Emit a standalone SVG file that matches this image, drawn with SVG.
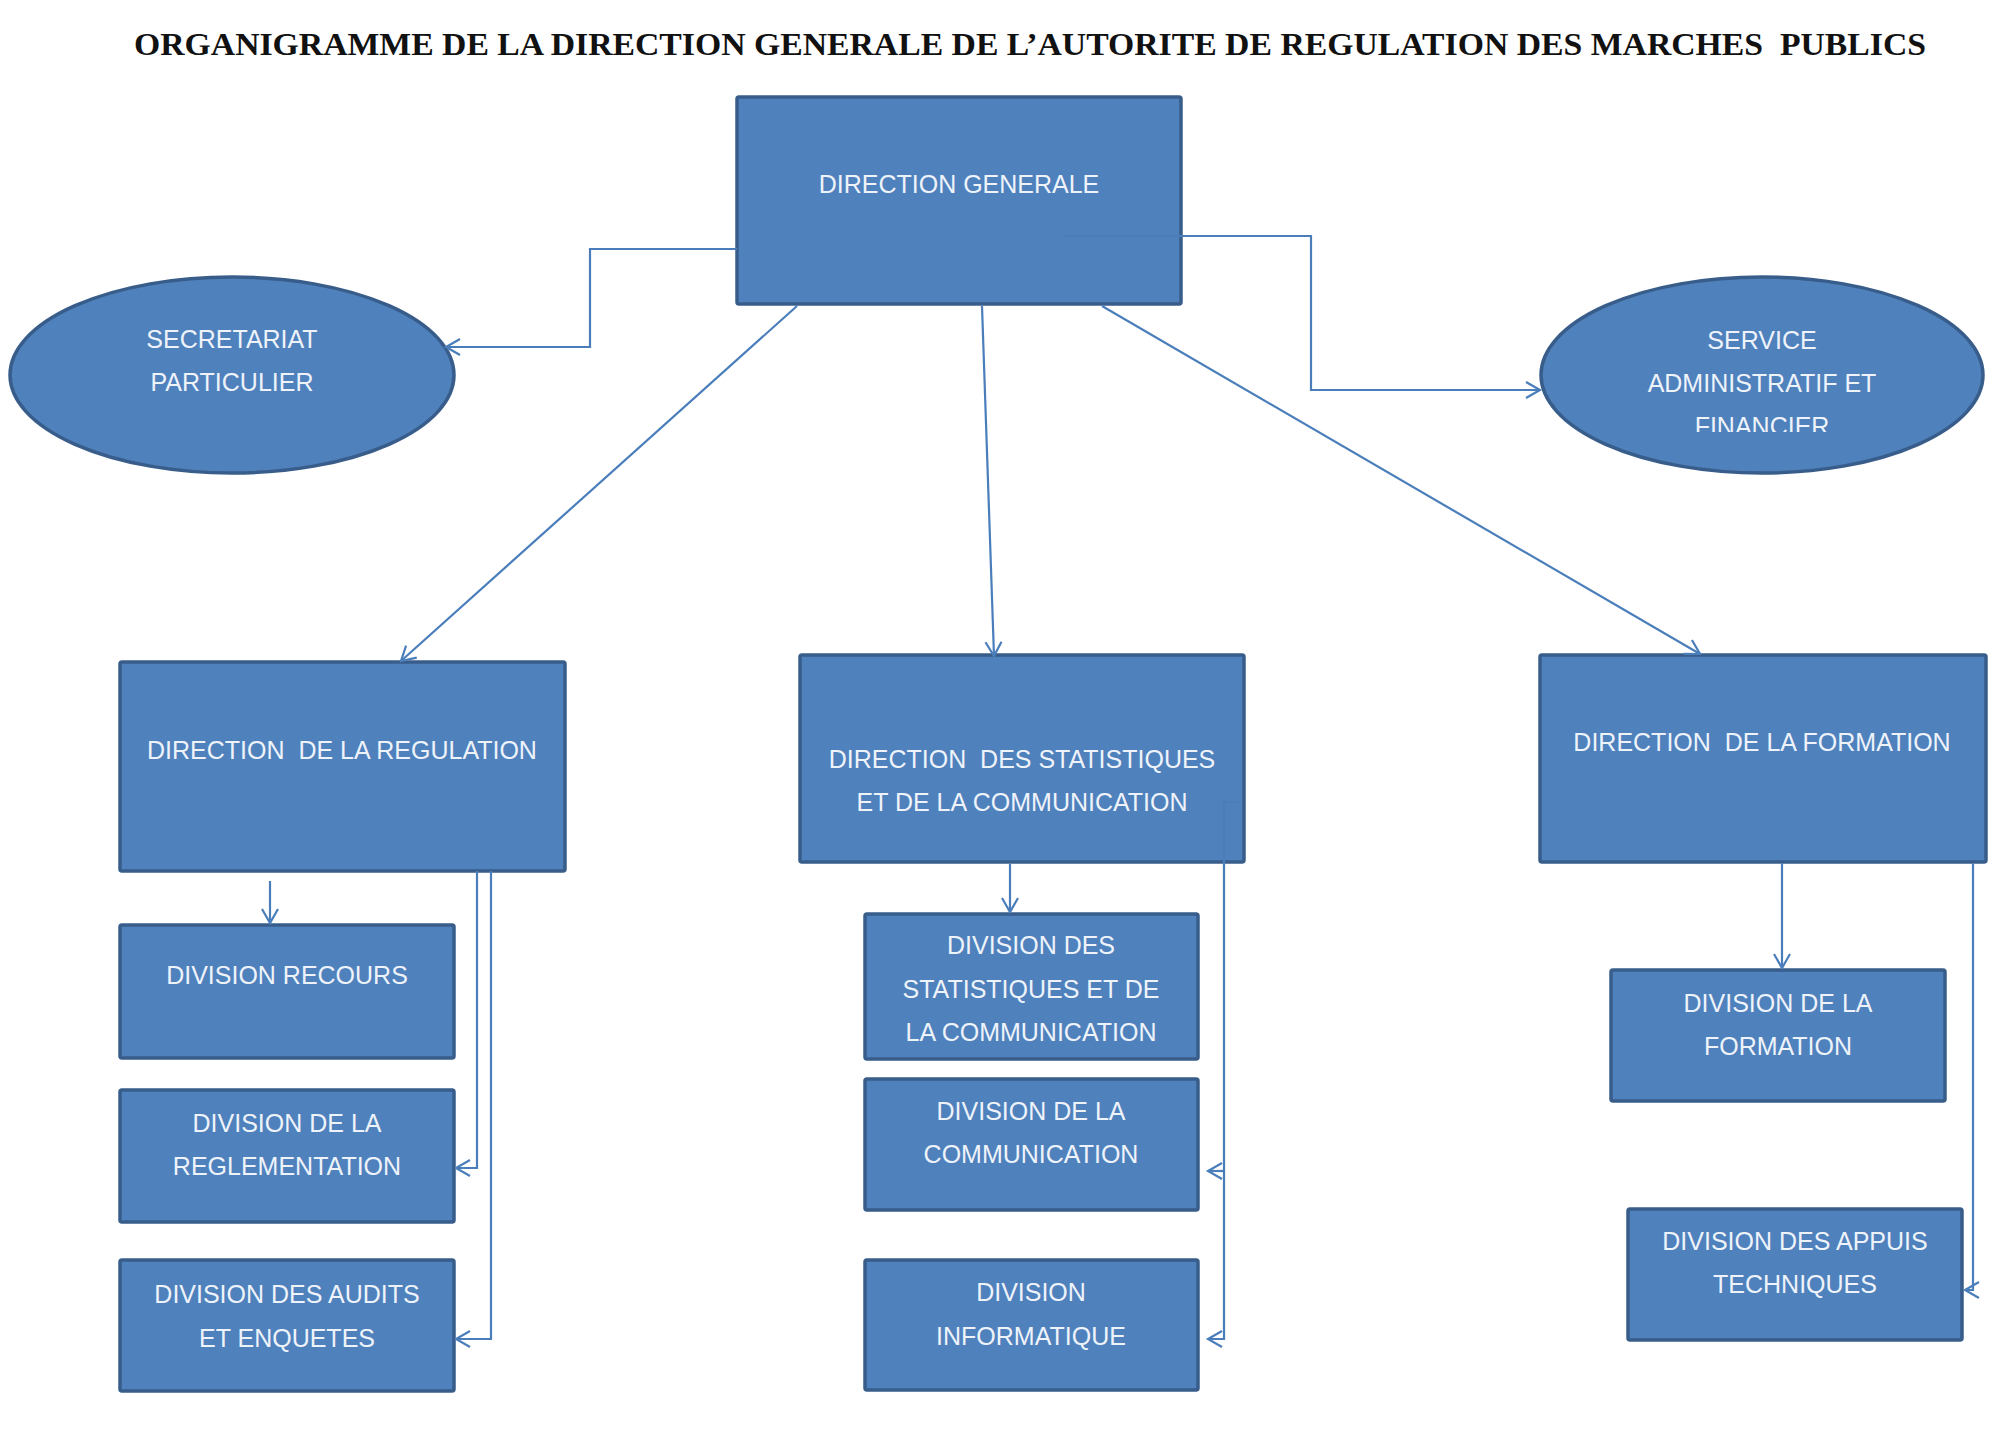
<svg xmlns="http://www.w3.org/2000/svg" width="2000" height="1450" viewBox="0 0 2000 1450">
<style>
.box{fill:#4f81bd;stroke:#385d8a;stroke-width:3.5}
.t{font-family:"Liberation Sans",Arial,sans-serif;font-size:25px;fill:#eef3fa;text-anchor:middle}
.title{font-family:"Liberation Serif","Times New Roman",serif;font-weight:bold;font-size:32px;fill:#111}
.c{fill:none;stroke:#4a7ebb;stroke-width:2.2}
</style>
<defs>
<marker id="ah" markerUnits="userSpaceOnUse" markerWidth="22" markerHeight="22" refX="17" refY="10" orient="auto">
<path d="M3,2 L17,10 L3,18" fill="none" stroke="#4a7ebb" stroke-width="2.2"/>
</marker>
<clipPath id="clipSaf"><rect x="1500" y="250" width="500" height="182"/></clipPath>
</defs>
<rect width="2000" height="1450" fill="#ffffff"/>
<text class="title" x="134" y="55" textLength="1792" lengthAdjust="spacingAndGlyphs" xml:space="preserve">ORGANIGRAMME DE LA DIRECTION GENERALE DE L’AUTORITE DE REGULATION DES MARCHES  PUBLICS</text>

<g id="dg"><rect class="box" x="737" y="97" width="444" height="207" rx="2"/><text class="t" x="959" y="193">DIRECTION GENERALE</text></g>
<g id="secretariat"><ellipse class="box" cx="232" cy="375" rx="222" ry="98"/><text class="t" x="232" y="348">SECRETARIAT</text><text class="t" x="232" y="391">PARTICULIER</text></g>
<g id="saf"><ellipse class="box" cx="1762" cy="375" rx="221" ry="98"/><g clip-path="url(#clipSaf)"><text class="t" x="1762" y="349">SERVICE</text><text class="t" x="1762" y="392">ADMINISTRATIF ET</text><text class="t" x="1762" y="435">FINANCIER</text></g></g>

<g id="dr"><rect class="box" x="120" y="662" width="445" height="209" rx="2"/><text class="t" x="342" y="759" xml:space="preserve">DIRECTION  DE LA REGULATION</text></g>
<g id="recours"><rect class="box" x="120" y="925" width="334" height="133" rx="2"/><text class="t" x="287" y="984">DIVISION RECOURS</text></g>
<g id="reglementation"><rect class="box" x="120" y="1090" width="334" height="132" rx="2"/><text class="t" x="287" y="1132">DIVISION DE LA</text><text class="t" x="287" y="1175">REGLEMENTATION</text></g>
<g id="audits"><rect class="box" x="120" y="1260" width="334" height="131" rx="2"/><text class="t" x="287" y="1303">DIVISION DES AUDITS</text><text class="t" x="287" y="1347">ET ENQUETES</text></g>

<g id="dsc"><rect class="box" x="800" y="655" width="444" height="207" rx="2"/><text class="t" x="1022" y="768" xml:space="preserve">DIRECTION  DES STATISTIQUES</text><text class="t" x="1022" y="811">ET DE LA COMMUNICATION</text></g>
<g id="divstats"><rect class="box" x="865" y="914" width="333" height="145" rx="2"/><text class="t" x="1031" y="954">DIVISION DES</text><text class="t" x="1031" y="998">STATISTIQUES ET DE</text><text class="t" x="1031" y="1041">LA COMMUNICATION</text></g>
<g id="divcomm"><rect class="box" x="865" y="1079" width="333" height="131" rx="2"/><text class="t" x="1031" y="1120">DIVISION DE LA</text><text class="t" x="1031" y="1163">COMMUNICATION</text></g>
<g id="divinfo"><rect class="box" x="865" y="1260" width="333" height="130" rx="2"/><text class="t" x="1031" y="1301">DIVISION</text><text class="t" x="1031" y="1345">INFORMATIQUE</text></g>

<g id="df"><rect class="box" x="1540" y="655" width="446" height="207" rx="2"/><text class="t" x="1762" y="751" xml:space="preserve">DIRECTION  DE LA FORMATION</text></g>
<g id="divformation"><rect class="box" x="1611" y="970" width="334" height="131" rx="2"/><text class="t" x="1778" y="1012">DIVISION DE LA</text><text class="t" x="1778" y="1055">FORMATION</text></g>
<g id="divappuis"><rect class="box" x="1628" y="1209" width="334" height="131" rx="2"/><text class="t" x="1795" y="1250">DIVISION DES APPUIS</text><text class="t" x="1795" y="1293">TECHNIQUES</text></g>

<g id="connectors">
<path class="c" d="M737,249 H590 V347 H446" marker-end="url(#ah)"/>
<path class="c" d="M1064,236 H1311 V390 H1540" marker-end="url(#ah)"/>
<path class="c" d="M797,306 L401,661" marker-end="url(#ah)"/>
<path class="c" d="M982,306 L994,656" marker-end="url(#ah)"/>
<path class="c" d="M1102,306 L1700,654" marker-end="url(#ah)"/>
<path class="c" d="M270,881 V923" marker-end="url(#ah)"/>
<path class="c" d="M477,871 V1168 H456" marker-end="url(#ah)"/>
<path class="c" d="M491,871 V1339 H456" marker-end="url(#ah)"/>
<path class="c" d="M1010,864 V912" marker-end="url(#ah)"/>
<path class="c" d="M1241,802 H1224 V1339 H1208" marker-end="url(#ah)"/>
<path class="c" d="M1224,1171 H1208" marker-end="url(#ah)"/>
<path class="c" d="M1782,863 V968" marker-end="url(#ah)"/>
<path class="c" d="M1973,863 V1290 H1965" marker-end="url(#ah)"/>
</g>
</svg>
